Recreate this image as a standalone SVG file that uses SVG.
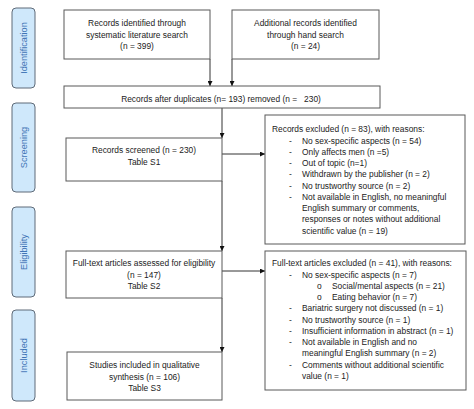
<svg xmlns="http://www.w3.org/2000/svg" width="474" height="409" viewBox="0 0 474 409">
<style>
.bg{fill:#ffffff}
.box{fill:#ffffff;stroke:#595959;stroke-width:1}
.side{fill:#cfe8fb;stroke:#5f6b78;stroke-width:1}
.st{font-family:"Liberation Sans",Arial,sans-serif;font-size:9.2px;fill:#3f74b5;text-anchor:middle}
.t{font-family:"Liberation Sans",Arial,sans-serif;font-size:8.4px;fill:#222222}
.c{text-anchor:middle}
.ln{fill:none;stroke:#333333;stroke-width:1}
</style>
<defs>
<marker id="ah" viewBox="0 0 6 6" refX="6" refY="3" markerWidth="5" markerHeight="5" orient="auto" markerUnits="userSpaceOnUse">
<path d="M0,0 L6,3 L0,6 Z" fill="#111111"/>
</marker>
</defs>
<rect class="bg" x="0" y="0" width="474" height="409"/>

<g id="side-identification">
<rect class="side" x="12" y="8" width="23" height="80" rx="4"/>
<text class="st" transform="translate(26.8,48) rotate(-90)">Identification</text>
</g>
<g id="side-screening">
<rect class="side" x="12" y="103" width="23" height="89" rx="4"/>
<text class="st" transform="translate(26.8,147.5) rotate(-90)">Screening</text>
</g>
<g id="side-eligibility">
<rect class="side" x="12" y="207" width="23" height="90" rx="4"/>
<text class="st" transform="translate(26.8,252) rotate(-90)">Eligibility</text>
</g>
<g id="side-included">
<rect class="side" x="12" y="310" width="23" height="91" rx="4"/>
<text class="st" transform="translate(26.8,355.5) rotate(-90)">Included</text>
</g>

<g id="connectors">
<line class="ln" x1="210" y1="59" x2="210" y2="86" marker-end="url(#ah)"/>
<line class="ln" x1="232" y1="59" x2="232" y2="86" marker-end="url(#ah)"/>
<line class="ln" x1="222" y1="108" x2="222" y2="138" marker-end="url(#ah)"/>
<line class="ln" x1="222" y1="181" x2="222" y2="251" marker-end="url(#ah)"/>
<line class="ln" x1="222" y1="298" x2="222" y2="352" marker-end="url(#ah)"/>
<line class="ln" x1="222" y1="154" x2="265" y2="154" marker-end="url(#ah)"/>
<line class="ln" x1="222" y1="271" x2="265" y2="271" marker-end="url(#ah)"/>
</g>

<g id="node-systematic">
<rect class="box" x="64" y="10" width="146" height="49"/>
<text class="t c" x="137" y="26">Records identified through</text>
<text class="t c" x="137" y="37.5">systematic literature search</text>
<text class="t c" x="137" y="49">(n = 399)</text>
</g>
<g id="node-hand">
<rect class="box" x="232" y="10" width="147" height="49"/>
<text class="t c" x="305.5" y="26">Additional records identified</text>
<text class="t c" x="305.5" y="37.5">through hand search</text>
<text class="t c" x="305.5" y="49">(n = 24)</text>
</g>
<g id="node-duplicates">
<rect class="box" x="64" y="86" width="316" height="22"/>
<text class="t c" x="221" y="102" xml:space="preserve">Records after duplicates (n= 193) removed (n =   230)</text>
</g>
<g id="node-screened">
<rect class="box" x="66" y="138" width="156" height="43"/>
<text class="t c" x="144" y="153">Records screened (n = 230)</text>
<text class="t c" x="144" y="164.5">Table S1</text>
</g>
<g id="node-excluded1">
<rect class="box" x="265" y="115" width="200" height="129"/>
<text class="t" x="272" y="132">Records excluded (n = 83), with reasons:</text>
<text class="t" x="289" y="143.5">-</text><text class="t" x="302" y="143.5">No sex-specific aspects (n = 54)</text>
<text class="t" x="289" y="154.8">-</text><text class="t" x="302" y="154.8">Only affects men (n =5)</text>
<text class="t" x="289" y="166">-</text><text class="t" x="302" y="166">Out of topic (n=1)</text>
<text class="t" x="289" y="177.3">-</text><text class="t" x="302" y="177.3">Withdrawn by the publisher (n = 2)</text>
<text class="t" x="289" y="188.5">-</text><text class="t" x="302" y="188.5">No trustworthy source (n = 2)</text>
<text class="t" x="289" y="199.8">-</text><text class="t" x="302" y="199.8">Not available in English, no meaningful</text>
<text class="t" x="302" y="211">English summary or comments,</text>
<text class="t" x="302" y="222.3">responses or notes without additional</text>
<text class="t" x="302" y="233.5">scientific value (n = 19)</text>
</g>
<g id="node-fulltext">
<rect class="box" x="66" y="251" width="156" height="47"/>
<text class="t c" x="144" y="266">Full-text articles assessed for eligibility</text>
<text class="t c" x="144" y="277.5">(n = 147)</text>
<text class="t c" x="144" y="289">Table S2</text>
</g>
<g id="node-excluded2">
<rect class="box" x="265" y="251" width="201" height="139"/>
<text class="t" x="272" y="266">Full-text articles excluded (n = 41), with reasons:</text>
<text class="t" x="289" y="277.5">-</text><text class="t" x="302" y="277.5">No sex-specific aspects (n = 7)</text>
<text class="t" x="317" y="288.8">o</text><text class="t" x="332" y="288.8">Social/mental aspects (n = 21)</text>
<text class="t" x="317" y="300">o</text><text class="t" x="332" y="300">Eating behavior (n = 7)</text>
<text class="t" x="289" y="311.3">-</text><text class="t" x="302" y="311.3">Bariatric surgery not discussed (n = 1)</text>
<text class="t" x="289" y="322.5">-</text><text class="t" x="302" y="322.5">No trustworthy source (n = 1)</text>
<text class="t" x="289" y="333.8">-</text><text class="t" x="302" y="333.8">Insufficient information in abstract (n = 1)</text>
<text class="t" x="289" y="345">-</text><text class="t" x="302" y="345">Not available in English and no</text>
<text class="t" x="302" y="356.3">meaningful English summary (n = 2)</text>
<text class="t" x="289" y="367.5">-</text><text class="t" x="302" y="367.5">Comments without additional scientific</text>
<text class="t" x="302" y="378.8">value (n = 1)</text>
</g>
<g id="node-included">
<rect class="box" x="67" y="352" width="155" height="48"/>
<text class="t c" x="144.5" y="368">Studies included in qualitative</text>
<text class="t c" x="144.5" y="379.5">synthesis (n = 106)</text>
<text class="t c" x="144.5" y="391">Table S3</text>
</g>
</svg>
